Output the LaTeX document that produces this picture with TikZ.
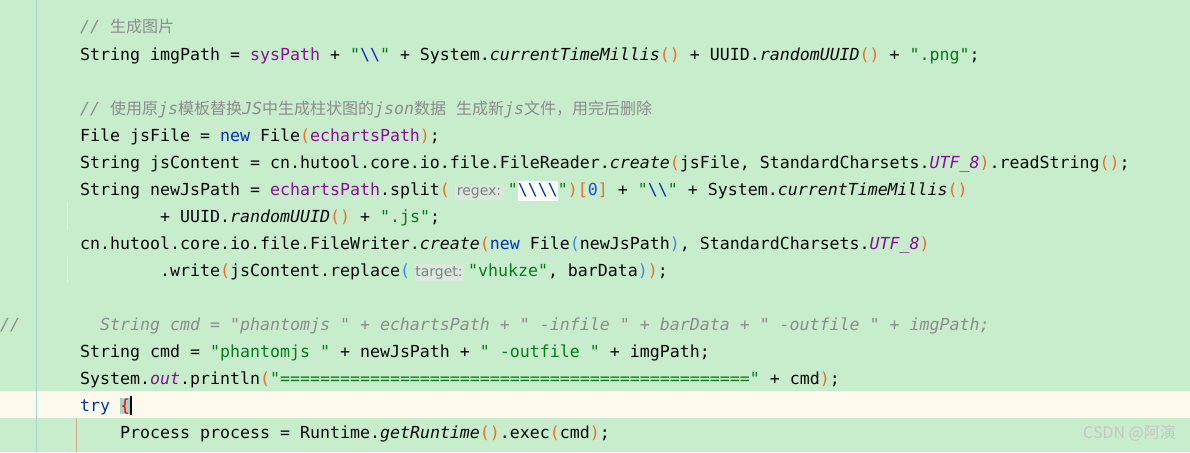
\documentclass[tikz,border=0pt]{standalone}
\usepackage{fontspec}
\newfontfamily\code{DejaVu Sans Mono}[WordSpace={1,0,0}]
\newfontfamily\cjk{Noto Sans CJK SC}
\newfontfamily\hintf{DejaVu Sans}
\definecolor{bg}{HTML}{C7EDCC}
\definecolor{cream}{HTML}{FCFAEC}
\definecolor{kwc}{HTML}{0033B3}
\definecolor{stc}{HTML}{067D17}
\definecolor{puc}{HTML}{871094}
\definecolor{nmc}{HTML}{1750EB}
\definecolor{cmc}{HTML}{8C8C8C}
\definecolor{orc}{HTML}{E8702A}
\definecolor{blc}{HTML}{3D8BE0}
\definecolor{txc}{HTML}{080808}
\definecolor{hintbg}{HTML}{DCE8DD}
\definecolor{gut}{HTML}{A8D4D0}
\newcommand\bs{\textbackslash}
\newcommand\kw[1]{{\color{kwc}#1}}
\newcommand\st[1]{{\color{stc}#1}}
\newcommand\esc[1]{{\color{kwc}#1}}
\newcommand\pu[1]{{\color{puc}#1}}
\newcommand\pit[1]{{\color{puc}\itshape #1}}
\newcommand\nm[1]{{\color{nmc}#1}}
\newcommand\mi[1]{{\itshape #1}}
\newcommand\po[1]{{\color{orc}#1}}
\newcommand\pb[1]{{\color{blc}#1}}
\newcommand\cj[1]{{\cjk\fontsize{16pt}{16pt}\selectfont #1}}
\newcommand\hint[1]{\hspace{5pt}{\setlength\fboxsep{2pt}\colorbox{hintbg}{\makebox[44pt]{\hintf\fontsize{14pt}{14pt}\selectfont\color{gray}#1}}}\hspace{5pt}}
\newcommand\hl[1]{{\setlength\fboxsep{0pt}\colorbox{white}{\strut#1}}}
\begin{document}
\begin{tikzpicture}[x=1pt,y=1pt,
  cl/.style={anchor=base west,inner sep=0pt,font=\code\fontsize{16.6pt}{20pt}\selectfont,text=txc}]
\useasboundingbox (0,0) rectangle (1190,-452);
\fill[bg] (0,0) rectangle (1190,-452);
\fill[cream] (0,-391) rectangle (1190,-418);
\draw[gut,line width=1pt] (36,0) -- (36,-452);
\draw[white!85!gray,line width=0.6pt] (67,-202) -- (67,-229);
\draw[white!85!gray,line width=0.6pt] (67,-256) -- (67,-283);
\draw[red!30!bg,line width=0.8pt] (76,-418) -- (76,-452);
\node[cl] (l1) at (80,-33) {\color{cmc}\itshape // \cj{生成图片}};
\node[cl] (l2) at (80,-60) {String imgPath = \pu{sysPath} + \st{"}\esc{\bs\bs}\st{"} + System.\mi{currentTimeMillis}\po{()} + UUID.\mi{randomUUID}\po{()} + \st{".png"};};
\node[cl] (l4) at (80,-114) {\color{cmc}\itshape // \cj{使用原}js\cj{模板替换}JS\cj{中生成柱状图的}json\cj{数据} \cj{生成新}js\cj{文件，用完后删除}};
\node[cl] (l5) at (80,-141) {File jsFile = \kw{new} File\po{(}\pu{echartsPath}\po{)};};
\node[cl] (l6) at (80,-168) {String jsContent = cn.hutool.core.io.file.FileReader.\mi{create}\po{(}jsFile, StandardCharsets.\pit{UTF\_8}\po{)}.readString\po{()};};
\node[cl] (l7) at (80,-195) {String newJsPath = \pu{echartsPath}.split\po{(}\hint{regex:}\st{"}\hl{\esc{\bs\bs\bs\bs}}\st{"}\po{)[}\nm{0}\po{]} + \st{"}\esc{\bs\bs}\st{"} + System.\mi{currentTimeMillis}\po{()}};
\node[cl] (l8) at (160,-222) {+ UUID.\mi{randomUUID}\po{()} + \st{".js"};};
\node[cl] (l9) at (80,-249) {cn.hutool.core.io.file.FileWriter.\mi{create}\po{(}\kw{new} File\pb{(}newJsPath\pb{)}, StandardCharsets.\pit{UTF\_8}\po{)}};
\node[cl] (l10) at (160,-276) {.write\po{(}jsContent.replace\pb{(}\hint{target:}\st{"vhukze"}, barData\pb{)}\po{)};};
\node[cl] (l12a) at (0,-330) {\color{cmc}\itshape //};
\node[cl] (l12) at (100,-330) {\color{cmc}\itshape String cmd = "phantomjs " + echartsPath + " -infile " + barData + " -outfile " + imgPath;};
\node[cl] (l13) at (80,-357) {String cmd = \st{"phantomjs "} + newJsPath + \st{" -outfile "} + imgPath;};
\node[cl] (l14) at (80,-384) {System.\pit{out}.println\po{(}\st{"==============================================="} + cmd\po{)};};
\node[cl] (l15) at (80,-411) {\kw{try} {\setlength\fboxsep{0pt}\colorbox{gut}{\color{red}\{}}\rule[-4pt]{1.5pt}{19pt}};
\node[cl] (l16) at (120,-438) {Process process = Runtime.\mi{getRuntime}\po{()}.exec\po{(}cmd\po{)};};
\node[anchor=base east,inner sep=0pt,text=white!55!gray,font=\cjk\fontsize{16pt}{16pt}\selectfont] (wm) at (1176,-438) {CSDN @阿演};
\end{tikzpicture}
\end{document}
